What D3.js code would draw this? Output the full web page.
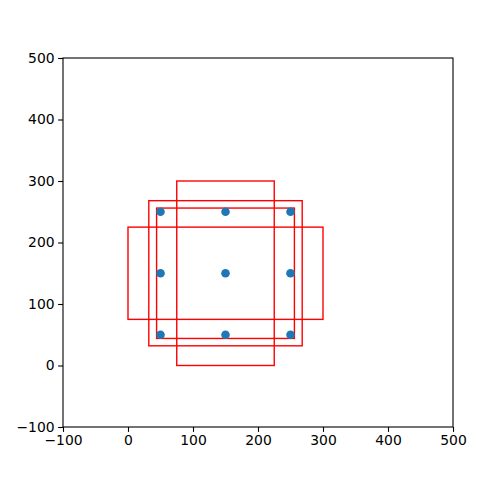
<!DOCTYPE html>
<html>
<head>
<meta charset="utf-8">
<script src="https://cdn.jsdelivr.net/npm/d3@7"></script>
<style>
    body { margin: 0; background: #fff; }
    text { font-family: "DejaVu Sans", sans-serif; }
</style>
</head>
<body>
<script>
// data
var xTicks = [-100, 0, 100, 200, 300, 400, 500];
var yTicks = [-100, 0, 100, 200, 300, 400, 500];
var pointsX = [50, 150, 250, 50, 150, 250, 50, 150, 250];
var pointsY = [50, 50, 50, 150, 150, 150, 250, 250, 250];
// rectangles as [x0, y0, x1, y1]
var rects = [
    [75, 0, 225, 300],
    [0, 75, 300, 225],
    [32, 32, 268, 268],
    [44, 44, 256, 256]
];

var width = 503, height = 480;
var margin = { left: 63, right: 50, top: 58, bottom: 53 };

var svg = d3
    .select("body")
    .append("svg")
    .attr("width", width)
    .attr("height", height);

var x = d3.scaleLinear().domain([-100, 500]).range([margin.left, width - margin.right]);
var y = d3.scaleLinear().domain([-100, 500]).range([height - margin.bottom, margin.top]);

// rectangles
svg.append("g")
    .selectAll("rect")
    .data(rects)
    .enter()
    .append("rect")
    .attr("x", (d) => x(d[0]))
    .attr("y", (d) => y(d[3]))
    .attr("width", (d) => x(d[2]) - x(d[0]))
    .attr("height", (d) => y(d[1]) - y(d[3]))
    .style("fill", "none")
    .style("stroke", "red")
    .style("stroke-width", "1.4px");

// points
svg.append("g")
    .selectAll("circle")
    .data(pointsX)
    .enter()
    .append("circle")
    .attr("cx", (d) => x(d))
    .attr("cy", (d, i) => y(pointsY[i]))
    .attr("r", 4.3)
    .style("fill", "#1f77b4");

// frame
svg.append("rect")
    .attr("x", x(-100))
    .attr("y", y(500))
    .attr("width", x(500) - x(-100))
    .attr("height", y(-100) - y(500))
    .style("fill", "none")
    .style("stroke", "#000")
    .style("stroke-width", "1.1px");

var xAxis = svg.append("g")
    .attr("transform", "translate(0," + y(-100) + ")")
    .call(d3.axisBottom(x).tickValues(xTicks).tickSize(4.9).tickPadding(3.5).tickFormat((d) => d < 0 ? "\u2212" + Math.abs(d) : d));

var yAxis = svg.append("g")
    .attr("transform", "translate(" + x(-100) + ",0)")
    .call(d3.axisLeft(y).tickValues(yTicks).tickSize(4.9).tickPadding(3.5).tickFormat((d) => d < 0 ? "\u2212" + Math.abs(d) : d));

[xAxis, yAxis].forEach(function (a) {
    a.select(".domain").remove();
    a.selectAll("line").style("stroke", "#000").style("stroke-width", "1.1px");
    a.selectAll("text")
        .style("font-family", "'DejaVu Sans', sans-serif")
        .style("font-size", "13.9px")
        .style("fill", "#000");
});
</script>
</body>
</html>
